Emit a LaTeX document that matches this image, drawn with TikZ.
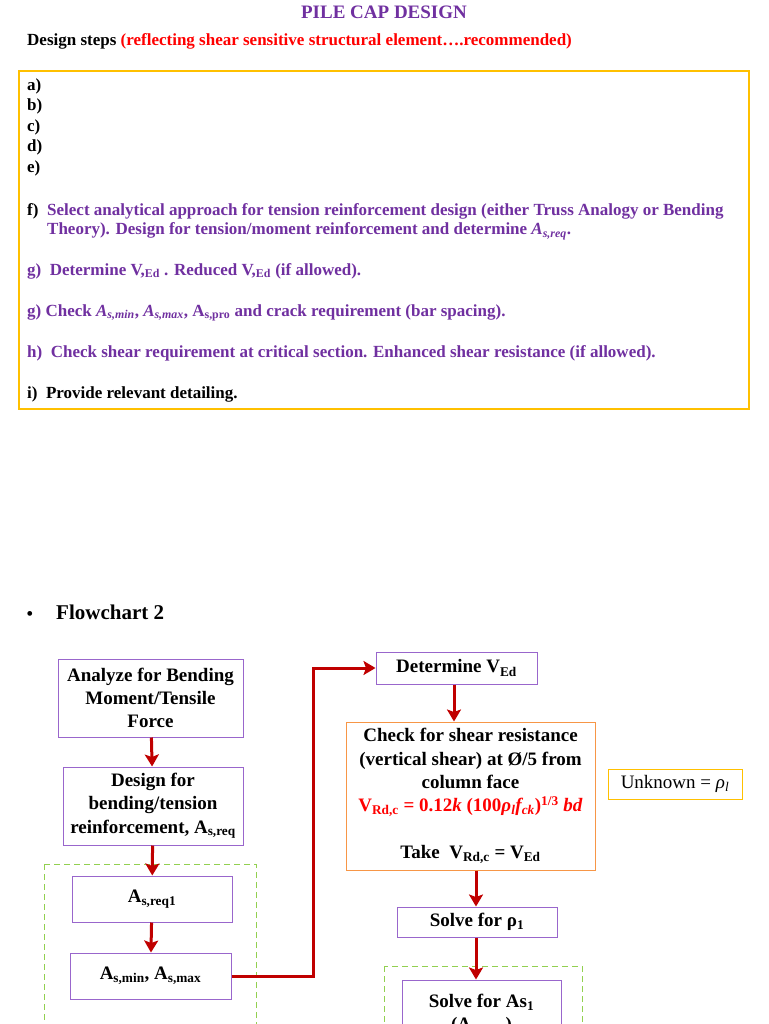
\documentclass[tikz,border=0pt]{standalone}
\usepackage{fontspec}
\setmainfont{Liberation Serif}
\usetikzlibrary{arrows.meta}
\definecolor{cpurple}{HTML}{7030A0}
\definecolor{cbox}{HTML}{9966CC}
\definecolor{cyel}{HTML}{FFC000}
\definecolor{cgreen}{HTML}{92D050}
\definecolor{corange}{HTML}{F79646}
\definecolor{cred}{HTML}{C00000}
\definecolor{cformula}{HTML}{FF0000}

\begin{document}
\begin{tikzpicture}[x=1pt, y=-1pt,
  flowbox/.style={draw=cbox, line width=1pt, align=center, inner sep=0pt,
    font=\bfseries\fontsize{19}{23.3}\selectfont},
  link/.style={-{Stealth[length=12pt, width=14pt, inset=2.5pt]}, draw=cred, line width=3pt},
  group/.style={draw=cgreen, line width=1pt, dash pattern=on 6pt off 4pt},
  item/.style={anchor=base west, inner sep=0pt, font=\bfseries\fontsize{17}{20}\selectfont}
]
\useasboundingbox (0,0) rectangle (768,1024);
\clip (0,0) rectangle (768,1024);

% heading
\node[anchor=base, inner sep=0pt, text=cpurple, font=\bfseries\fontsize{19}{22}\selectfont]
  (title) at (384,19) {PILE CAP DESIGN};
\node[item] (steps) at (27,46) {Design steps \textcolor{cformula}{(reflecting shear sensitive structural element\dots.recommended)}};

% list of steps
\draw[cyel, line width=2pt] (19,71) rectangle (749,409);
\node[item] (sa) at (27,91) {a)};
\node[item] (sb) at (27,111) {b)};
\node[item] (sc) at (27,132) {c)};
\node[item] (sd) at (27,152) {d)};
\node[item] (se) at (27,173) {e)};
\node[item] (sf) at (27,215) {f)};
\node[item, text=cpurple] (sf1) at (47,215) {Select analytical approach for tension reinforcement design (either Truss Analogy or Bending};
\node[item, text=cpurple] (sf2) at (47,235) {Theory). Design for tension/moment reinforcement and determine \textit{A\textsubscript{s,req}}.};
\node[item, text=cpurple] (sg) at (27,275) {g)\ \ Determine V,\textsubscript{Ed} . Reduced V,\textsubscript{Ed} (if allowed).};
\node[item, text=cpurple] (sg2) at (27,316) {g) Check \textit{A\textsubscript{s,min}}, \textit{A\textsubscript{s,max}}, A\textsubscript{s,pro} and crack requirement (bar spacing).};
\node[item, text=cpurple] (sh) at (27,357) {h)\ \ Check shear requirement at critical section. Enhanced shear resistance (if allowed).};
\node[item] (si) at (27,398) {i)\ \ Provide relevant detailing.};

% flowchart
\node[inner sep=0pt, font=\fontsize{20}{22}\selectfont] (dot) at (30,616) {\textbullet};
\node[anchor=base west, inner sep=0pt, font=\bfseries\fontsize{21}{24}\selectfont] (fc) at (56,619) {Flowchart 2};

\draw[group] (44,864) rectangle (256,1040);
\draw[group] (384,966) rectangle (582,1040);

\node[flowbox, minimum width=185pt, minimum height=78pt] (analyze) at (150.5,698)
  {Analyze for Bending\\Moment/Tensile\\Force};
\node[flowbox, minimum width=180pt, minimum height=78pt] (design) at (153,806)
  {Design for\\bending/tension\\reinforcement, A\textsubscript{s,req}};
\node[flowbox, minimum width=160pt, minimum height=46pt] (asreq) at (152,899) {A\textsubscript{s,req1}};
\node[flowbox, minimum width=161pt, minimum height=46pt] (asmin) at (150.5,976)
  {A\textsubscript{s,min}, A\textsubscript{s,max}};

\node[flowbox, minimum width=161pt, minimum height=32pt] (ved) at (456.5,668) {Determine V\textsubscript{Ed}};
\node[flowbox, draw=corange, minimum width=249pt, minimum height=148pt] (shear) at (470.5,796)
  {Check for shear resistance\\(vertical shear) at Ø/5 from\\column face\\
   \textcolor{cformula}{V\textsubscript{Rd,c} = 0.12\textit{k} (100\textit{ρ\textsubscript{l}f\textsubscript{ck}})\textsuperscript{1/3} \textit{bd}}\\[23.3pt]
   Take\ \ V\textsubscript{Rd,c} = V\textsubscript{Ed}};
\node[draw=cyel, line width=1pt, inner sep=0pt, minimum width=134pt, minimum height=30pt,
  font=\fontsize{19}{22}\selectfont] (unknown) at (675,784) {Unknown = \textit{ρ\textsubscript{l}}};
\node[flowbox, minimum width=160pt, minimum height=30pt] (rho) at (477,922) {Solve for ρ\textsubscript{1}};
\node[flowbox, minimum width=159pt, minimum height=70pt] (as1) at (481.5,1015)
  {Solve for As\textsubscript{1}\\(A\textsubscript{s,req2})};

% arrows
\coordinate (turn) at (313,800);
\draw[link] (analyze) -- (design);
\draw[link] (design) -- (asreq);
\draw[link] (asreq) -- (asmin);
\draw[link] (asmin.east) -| (turn) |- (ved.west);
\draw[link] (ved.south -| 454,0) -- (shear.north -| 454,0);
\draw[link] (shear.south -| 476,0) -- (rho.north -| 476,0);
\draw[link] (rho.south -| 476,0) -- (as1.north -| 476,0);
\end{tikzpicture}
\end{document}
